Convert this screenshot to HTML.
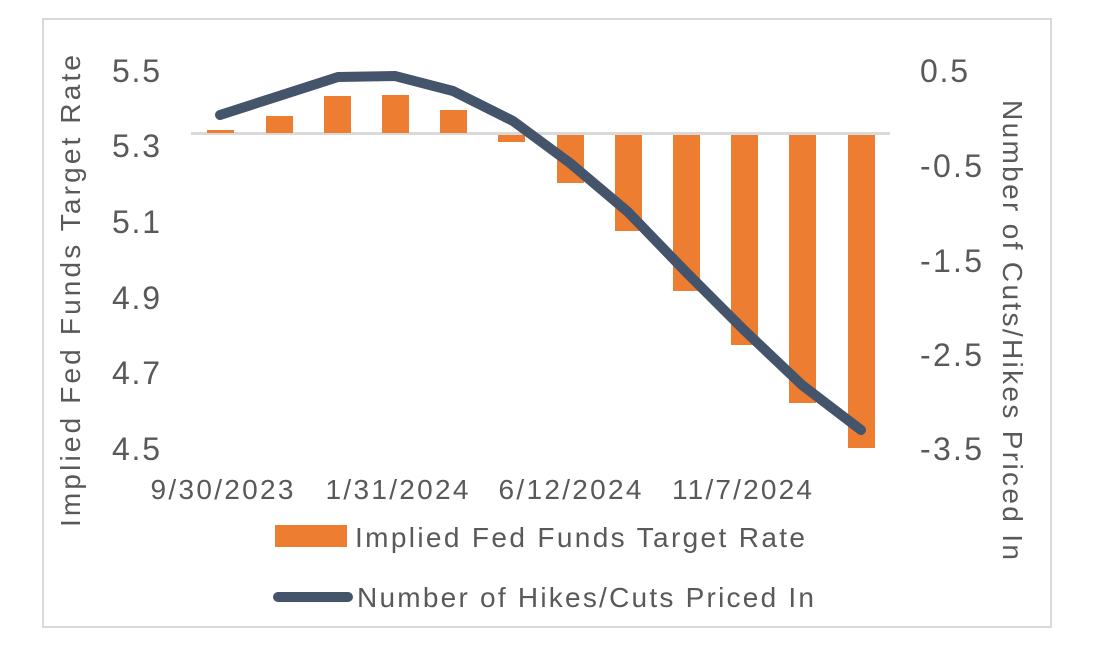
<!DOCTYPE html>
<html><head><style>
body{margin:0;background:#fff;}
svg text{font-family:"Liberation Sans",sans-serif;fill:#595959;}
</style></head><body>
<svg width="1097" height="648" viewBox="0 0 1097 648">
<rect x="43" y="19" width="1008" height="608" fill="#fff" stroke="#d9d9d9" stroke-width="2"/>
<line x1="191" y1="133.5" x2="890" y2="133.5" stroke="#d9d9d9" stroke-width="3"/>
<g fill="#ED7D31">
<rect x="207" y="130" width="27" height="3"/>
<rect x="266" y="116" width="27" height="17"/>
<rect x="324" y="96" width="27" height="37"/>
<rect x="382" y="95" width="27" height="38"/>
<rect x="440" y="110" width="27" height="23"/>
<rect x="498" y="135" width="27" height="7"/>
<rect x="557" y="135" width="27" height="48"/>
<rect x="615" y="135" width="27" height="96"/>
<rect x="673" y="135" width="27" height="156"/>
<rect x="731" y="135" width="27" height="210"/>
<rect x="789" y="135" width="27" height="268"/>
<rect x="848" y="135" width="27" height="313"/>
</g>
<polyline points="220,115 279,96 338,77 395,76 453,91 513,121 570,163 628,212 686,272 744,330 802,385 861,430" fill="none" stroke="#44546A" stroke-width="10" stroke-linecap="round" stroke-linejoin="round"/>
<g font-size="32" text-anchor="end">
<text x="160" y="82" textLength="48">5.5</text>
<text x="160" y="157" textLength="48">5.3</text>
<text x="160" y="233" textLength="48">5.1</text>
<text x="160" y="309" textLength="48">4.9</text>
<text x="160" y="384" textLength="48">4.7</text>
<text x="160" y="460" textLength="48">4.5</text>
</g>
<g font-size="32" text-anchor="start">
<text x="920" y="82" textLength="48">0.5</text>
<text x="920" y="177" textLength="62">-0.5</text>
<text x="920" y="272" textLength="62">-1.5</text>
<text x="920" y="366" textLength="62">-2.5</text>
<text x="920" y="460" textLength="62">-3.5</text>
</g>
<g font-size="28" text-anchor="middle">
<text x="222" y="499" textLength="143">9/30/2023</text>
<text x="397" y="499" textLength="143">1/31/2024</text>
<text x="570" y="499" textLength="143">6/12/2024</text>
<text x="742" y="499" textLength="140">11/7/2024</text>
</g>
<text font-size="28" text-anchor="middle" textLength="472" transform="translate(80,291) rotate(-90)">Implied Fed Funds Target Rate</text>
<text font-size="28" text-anchor="middle" textLength="460" transform="translate(1003,330) rotate(90)">Number of Cuts/Hikes Priced In</text>
<rect x="275" y="525" width="72" height="22" fill="#ED7D31"/>
<text x="355" y="547" font-size="28" textLength="450">Implied Fed Funds Target Rate</text>
<line x1="278" y1="597" x2="348" y2="597" stroke="#44546A" stroke-width="10" stroke-linecap="round"/>
<text x="357" y="607" font-size="28" textLength="457">Number of Hikes/Cuts Priced In</text>
</svg>
</body></html>
